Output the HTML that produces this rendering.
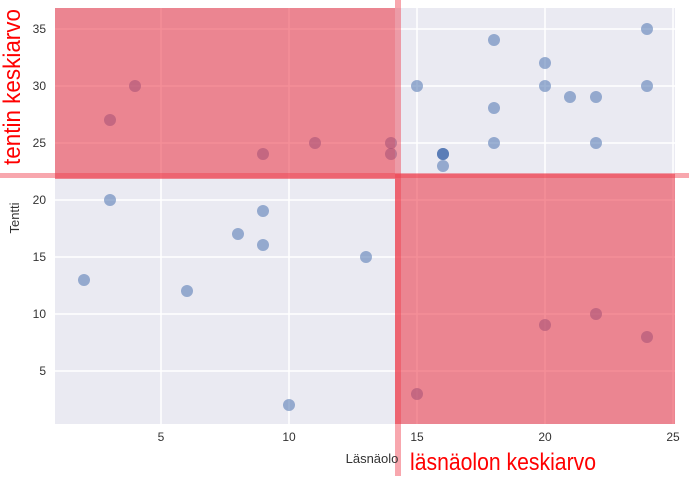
<!DOCTYPE html>
<html><head><meta charset="utf-8"><style>
body{margin:0;background:#fff;}
</style></head><body>
<svg width="689" height="476" xmlns="http://www.w3.org/2000/svg" font-family="Liberation Sans, sans-serif">
<rect x="0" y="0" width="689" height="476" fill="#fff"/>
<rect x="55" y="8" width="620" height="416" fill="#eaeaf2"/>
<g stroke="#fff" stroke-width="1.5">
<line x1="161" y1="8" x2="161" y2="424"/><line x1="289" y1="8" x2="289" y2="424"/><line x1="417" y1="8" x2="417" y2="424"/><line x1="545" y1="8" x2="545" y2="424"/><line x1="673" y1="8" x2="673" y2="424"/>
<line x1="55" y1="29" x2="675" y2="29"/><line x1="55" y1="86" x2="675" y2="86"/><line x1="55" y1="143" x2="675" y2="143"/><line x1="55" y1="200" x2="675" y2="200"/><line x1="55" y1="257" x2="675" y2="257"/><line x1="55" y1="314" x2="675" y2="314"/><line x1="55" y1="371" x2="675" y2="371"/>
</g>
<g fill="rgba(76,114,176,0.55)">
<circle cx="84" cy="280" r="6"/><circle cx="110" cy="200" r="6"/><circle cx="110" cy="120" r="6"/><circle cx="135" cy="86" r="6"/><circle cx="187" cy="291" r="6"/><circle cx="238" cy="234" r="6"/><circle cx="263" cy="211" r="6"/><circle cx="263" cy="245" r="6"/><circle cx="263" cy="154" r="6"/><circle cx="289" cy="405" r="6"/><circle cx="315" cy="143" r="6"/><circle cx="366" cy="257" r="6"/><circle cx="391" cy="143" r="6"/><circle cx="391" cy="154" r="6"/><circle cx="417" cy="86" r="6"/><circle cx="417" cy="394" r="6"/><circle cx="443" cy="154" r="6"/><circle cx="443" cy="154" r="6"/><circle cx="443" cy="154" r="6"/><circle cx="443" cy="166" r="6"/><circle cx="494" cy="40" r="6"/><circle cx="494" cy="108" r="6"/><circle cx="494" cy="143" r="6"/><circle cx="545" cy="63" r="6"/><circle cx="545" cy="86" r="6"/><circle cx="545" cy="325" r="6"/><circle cx="570" cy="97" r="6"/><circle cx="596" cy="97" r="6"/><circle cx="596" cy="143" r="6"/><circle cx="596" cy="314" r="6"/><circle cx="647" cy="29" r="6"/><circle cx="647" cy="86" r="6"/><circle cx="647" cy="337" r="6"/>
</g>
<rect x="55" y="8" width="340" height="171" fill="rgba(235,50,65,0.55)"/>
<rect x="395" y="174" width="280" height="250" fill="rgba(235,50,65,0.55)"/>
<rect x="395" y="0" width="6" height="476" fill="rgba(240,60,75,0.45)"/>
<rect x="0" y="173" width="689" height="5" fill="rgba(240,60,75,0.45)"/>
<g font-size="12" fill="#333" text-anchor="end">
<text x="46" y="33">35</text><text x="46" y="90">30</text><text x="46" y="147">25</text><text x="46" y="204">20</text><text x="46" y="261">15</text><text x="46" y="318">10</text><text x="46" y="375">5</text>
</g>
<g font-size="12" fill="#333" text-anchor="middle">
<text x="161" y="441">5</text><text x="289" y="441">10</text><text x="417" y="441">15</text><text x="545" y="441">20</text><text x="673" y="441">25</text>
</g>
<text x="372" y="463" font-size="13" fill="#333" text-anchor="middle">Läsnäolo</text>
<text transform="translate(19,218) rotate(-90)" font-size="13" fill="#333" text-anchor="middle">Tentti</text>
<text x="410" y="470" font-size="24" fill="#f00" textLength="186" lengthAdjust="spacingAndGlyphs">läsnäolon keskiarvo</text>
<text transform="translate(20,165) rotate(-90)" font-size="24" fill="#f00" textLength="156" lengthAdjust="spacingAndGlyphs">tentin keskiarvo</text>
</svg>
</body></html>
